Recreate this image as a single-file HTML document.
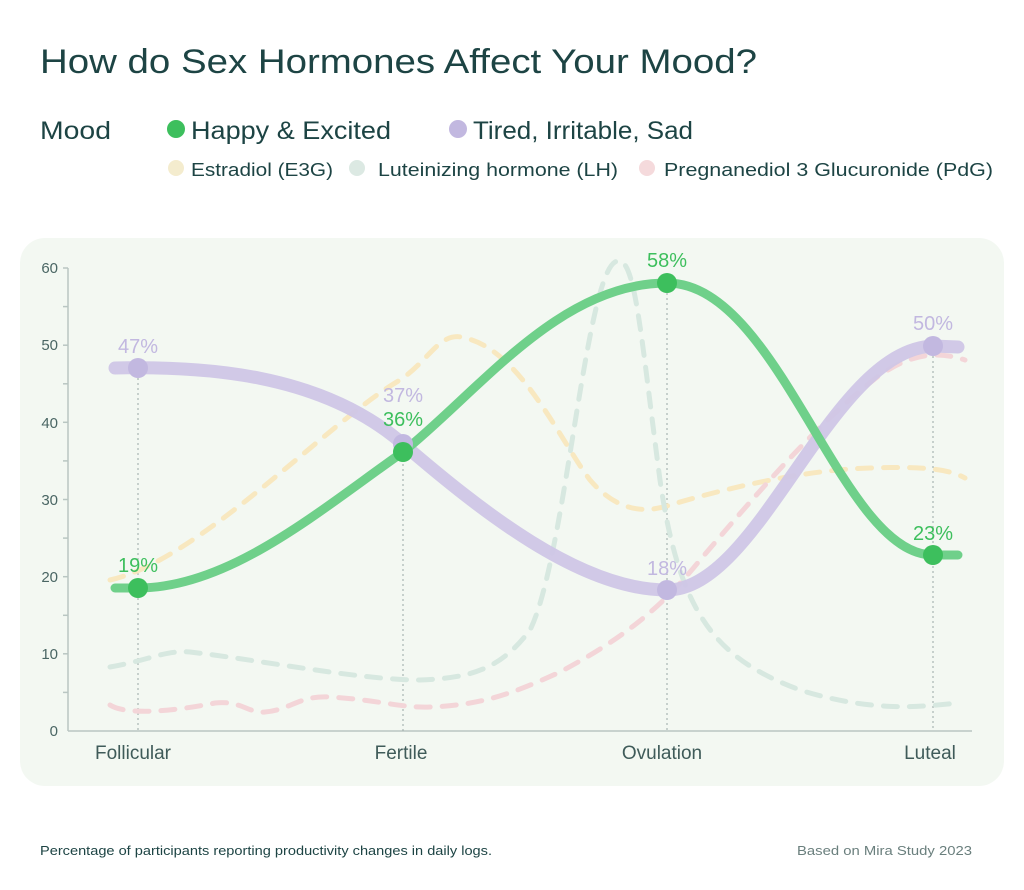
<!DOCTYPE html>
<html><head><meta charset="utf-8"><style>
html,body{margin:0;padding:0;background:#fff}
svg{display:block;font-family:"Liberation Sans",sans-serif}
</style></head><body>
<svg width="1024" height="890" viewBox="0 0 1024 890" xmlns="http://www.w3.org/2000/svg">
<text x="40" y="73" font-size="34" fill="#1d4444" textLength="717" lengthAdjust="spacingAndGlyphs">How do Sex Hormones Affect Your Mood?</text>
<text x="40" y="139" font-size="25" fill="#1d4444" textLength="71" lengthAdjust="spacingAndGlyphs">Mood</text>
<circle cx="176" cy="129" r="9" fill="#3dbf5d"/>
<text x="191" y="139" font-size="25" fill="#1d4444" textLength="200" lengthAdjust="spacingAndGlyphs">Happy &amp; Excited</text>
<circle cx="458" cy="129" r="9" fill="#c2b8e0"/>
<text x="473" y="139" font-size="25" fill="#1d4444" textLength="220" lengthAdjust="spacingAndGlyphs">Tired, Irritable, Sad</text>
<circle cx="176" cy="168" r="8" fill="#f4ecce"/>
<text x="191" y="176" font-size="18" fill="#1d4444" textLength="142" lengthAdjust="spacingAndGlyphs">Estradiol (E3G)</text>
<circle cx="357" cy="168" r="8" fill="#dce9e3"/>
<text x="378" y="176" font-size="18" fill="#1d4444" textLength="240" lengthAdjust="spacingAndGlyphs">Luteinizing hormone (LH)</text>
<circle cx="647" cy="168" r="8" fill="#f5dadc"/>
<text x="664" y="176" font-size="18" fill="#1d4444" textLength="329" lengthAdjust="spacingAndGlyphs">Pregnanediol 3 Glucuronide (PdG)</text>

<rect x="20" y="238" width="984" height="548" rx="25" fill="#f3f8f2"/>
<!-- axes -->
<g stroke="#b9c6c2" stroke-width="1.5">
<line x1="68" y1="268" x2="68" y2="731"/>
<line x1="68" y1="731" x2="972" y2="731"/>
<line x1="63" y1="268" x2="68" y2="268"/><line x1="63" y1="306.6" x2="68" y2="306.6"/>
<line x1="63" y1="345.2" x2="68" y2="345.2"/><line x1="63" y1="383.8" x2="68" y2="383.8"/>
<line x1="63" y1="422.3" x2="68" y2="422.3"/><line x1="63" y1="460.9" x2="68" y2="460.9"/>
<line x1="63" y1="499.5" x2="68" y2="499.5"/><line x1="63" y1="538.1" x2="68" y2="538.1"/>
<line x1="63" y1="576.7" x2="68" y2="576.7"/><line x1="63" y1="615.3" x2="68" y2="615.3"/>
<line x1="63" y1="653.8" x2="68" y2="653.8"/><line x1="63" y1="692.4" x2="68" y2="692.4"/>
</g>
<g font-size="15" fill="#4a6664" text-anchor="end">
<text x="58" y="273">60</text><text x="58" y="350">50</text><text x="58" y="428">40</text>
<text x="58" y="505">30</text><text x="58" y="582">20</text><text x="58" y="659">10</text><text x="58" y="736">0</text>
</g>
<g stroke="#9aa8a5" stroke-width="1" stroke-dasharray="2 3">
<line x1="138" y1="368" x2="138" y2="731"/>
<line x1="403" y1="444" x2="403" y2="731"/>
<line x1="667" y1="283" x2="667" y2="731"/>
<line x1="933" y1="346" x2="933" y2="731"/>
</g>
<g font-size="19" fill="#3f5b59" text-anchor="middle">
<text x="133" y="759">Follicular</text><text x="401" y="759">Fertile</text>
<text x="662" y="759">Ovulation</text><text x="930" y="759">Luteal</text>
</g>
<!-- hormone dashed lines -->
<g fill="none" stroke-width="5" stroke-linecap="round" stroke-dasharray="14 12">
<path d="M110,580 C200,560 330,420 400,380 C430,360 440,330 465,338 C520,350 560,440 590,480 C620,515 650,512 670,505 C720,490 800,470 870,468 C930,466 950,470 965,478" stroke="#f8e8c0"/>
<path d="M110,667 C150,660 165,650 190,652 C260,660 360,680 420,680 C470,678 500,670 530,630 C565,560 585,280 615,262 C635,250 640,330 660,480 C680,620 720,660 800,690 C880,715 930,705 960,703" stroke="#d7e8e0"/>
<path d="M110,705 C125,715 170,712 215,703 C240,700 250,714 265,712 C290,710 300,695 330,697 C380,700 400,708 430,707 C480,705 510,695 560,672 C620,640 660,610 700,560 C760,490 820,420 880,375 C910,355 935,350 965,360" stroke="#f3d5d8"/>
</g>
<!-- mood lines -->
<path d="M115,368 C200,366 320,372 403,444 C480,510 580,590 667,590 C760,590 830,350 933,346 L958,347" fill="none" stroke="#cfc6e6" stroke-width="13" stroke-linecap="round" opacity="0.95"/>
<path d="M115,588 L138,588 C230,588 320,510 403,452 C480,390 560,283 667,283 C780,283 840,555 933,555 L958,555" fill="none" stroke="#6fd08a" stroke-width="9" stroke-linecap="round"/>
<circle cx="138" cy="368" r="10" fill="#c2b8e0"/>
<circle cx="403" cy="444" r="10" fill="#c2b8e0"/>
<circle cx="667" cy="590" r="10" fill="#c2b8e0"/>
<circle cx="933" cy="346" r="10" fill="#c2b8e0"/>
<circle cx="138" cy="588" r="10" fill="#3dbf5d"/>
<circle cx="403" cy="452" r="10" fill="#3dbf5d"/>
<circle cx="667" cy="283" r="10" fill="#3dbf5d"/>
<circle cx="933" cy="555" r="10" fill="#3dbf5d"/>
<g font-size="20" text-anchor="middle">
<text x="138" y="353" fill="#c2b8e0">47%</text>
<text x="403" y="402" fill="#c2b8e0">37%</text>
<text x="667" y="575" fill="#c2b8e0">18%</text>
<text x="933" y="330" fill="#c2b8e0">50%</text>
<text x="138" y="572" fill="#3dbf5d">19%</text>
<text x="403" y="426" fill="#3dbf5d">36%</text>
<text x="667" y="267" fill="#3dbf5d">58%</text>
<text x="933" y="540" fill="#3dbf5d">23%</text>
</g>
<text x="40" y="855" font-size="13" fill="#1d4444" textLength="452" lengthAdjust="spacingAndGlyphs">Percentage of participants reporting productivity changes in daily logs.</text>
<text x="797" y="855" font-size="13" fill="#6a7f7d" textLength="175" lengthAdjust="spacingAndGlyphs">Based on Mira Study 2023</text>
</svg>
</body></html>
